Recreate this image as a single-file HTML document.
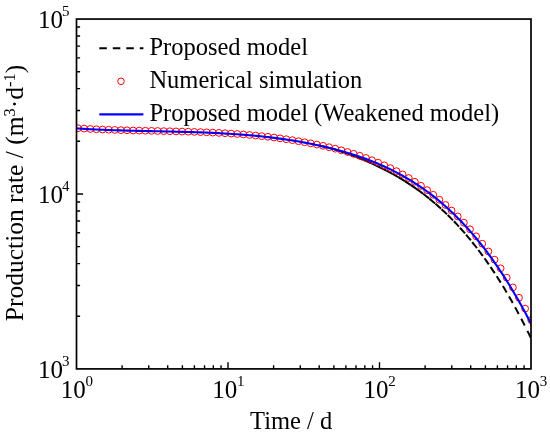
<!DOCTYPE html>
<html><head><meta charset="utf-8"><style>
html,body{margin:0;padding:0;background:#fff;}
svg{display:block;}
text{font-family:"Liberation Serif","Times New Roman",serif;fill:#000;}
</style></head><body>
<svg width="550" height="433" viewBox="0 0 550 433">
<rect width="550" height="433" fill="#fff"/>
<defs><clipPath id="c"><rect x="76.50" y="19.05" width="454.50" height="349.85"/></clipPath></defs>
<g clip-path="url(#c)">
<g fill="none" stroke="#000" stroke-width="2.0" stroke-dasharray="7.5,6"><path d="M318.97,145.50 L320.50,145.84 L322.04,146.19 L323.57,146.54 L325.10,146.90"/><path d="M325.10,146.90 L326.63,147.26 L328.17,147.63 L329.70,148.01 L331.23,148.40"/><path d="M331.23,148.40 L332.76,148.81 L334.30,149.25 L335.83,149.71 L337.36,150.19"/><path d="M337.36,150.19 L338.89,150.69 L340.43,151.20 L341.96,151.73 L343.49,152.26"/><path d="M343.49,152.26 L345.02,152.81 L346.56,153.36 L348.09,153.91 L349.62,154.46"/><path d="M349.62,154.46 L351.15,155.02 L352.69,155.60 L354.22,156.18 L355.75,156.77"/><path d="M355.75,156.77 L357.28,157.38 L358.81,157.99 L360.35,158.62 L361.88,159.25"/><path d="M361.88,159.25 L363.41,159.89 L364.94,160.54 L366.48,161.19 L368.01,161.85"/><path d="M368.01,161.85 L369.54,162.52 L371.07,163.20 L372.61,163.89 L374.14,164.59"/><path d="M374.14,164.59 L375.67,165.30 L377.20,166.02 L378.74,166.75 L380.27,167.49"/><path d="M380.27,167.49 L381.80,168.25 L383.33,169.01 L384.87,169.79 L386.40,170.59"/><path d="M386.40,170.59 L387.93,171.39 L389.46,172.21 L391.00,173.04 L392.53,173.88"/><path d="M392.53,173.88 L394.06,174.74 L395.59,175.61 L397.13,176.50 L398.66,177.39"/><path d="M398.66,177.39 L400.19,178.31 L401.73,179.23 L403.26,180.17 L404.79,181.13"/><path d="M404.79,181.13 L406.32,182.10 L407.86,183.08 L409.39,184.08 L410.92,185.10"/><path d="M410.92,185.10 L412.45,186.13 L413.99,187.17 L415.52,188.24 L417.05,189.32"/><path d="M417.05,189.32 L418.58,190.41 L420.12,191.53 L421.65,192.66 L423.18,193.81"/><path d="M423.18,193.81 L424.71,194.99 L426.25,196.18 L427.78,197.39 L429.31,198.62"/><path d="M429.31,198.62 L430.84,199.88 L432.38,201.15 L433.91,202.45 L435.44,203.76"/><path d="M435.44,203.76 L436.97,205.10 L438.50,206.46 L440.04,207.83 L441.57,209.23"/><path d="M441.57,209.23 L443.10,210.65 L444.63,212.10 L446.17,213.56 L447.70,215.05"/><path d="M447.70,215.05 L449.23,216.56 L450.76,218.09 L452.30,219.64 L453.83,221.21"/><path d="M453.83,221.21 L455.36,222.81 L456.89,224.44 L458.43,226.09 L459.96,227.76"/><path d="M459.96,227.76 L461.49,229.46 L463.02,231.19 L464.56,232.94 L466.09,234.72"/><path d="M466.09,234.72 L467.62,236.53 L469.16,238.37 L470.69,240.23 L472.22,242.13"/><path d="M472.22,242.13 L473.75,244.05 L475.29,246.00 L476.82,247.97 L478.35,249.98"/><path d="M478.35,249.98 L479.88,252.01 L481.42,254.07 L482.95,256.17 L484.48,258.29"/><path d="M484.48,258.29 L486.01,260.43 L487.55,262.61 L489.08,264.82 L490.61,267.05"/><path d="M490.61,267.05 L492.14,269.32 L493.68,271.62 L495.21,273.95 L496.74,276.31"/><path d="M496.74,276.31 L498.27,278.70 L499.81,281.12 L501.34,283.58 L502.87,286.08"/><path d="M502.87,286.08 L504.40,288.60 L505.94,291.16 L507.47,293.76 L509.00,296.40"/><path d="M509.00,296.40 L510.53,299.07 L512.07,301.78 L513.60,304.53 L515.13,307.31"/><path d="M515.13,307.31 L516.66,310.13 L518.19,312.98 L519.73,315.87 L521.26,318.80"/><path d="M521.26,318.80 L522.79,321.76 L524.33,324.75 L525.86,327.77 L527.39,330.83"/><path d="M527.39,330.83 L528.92,333.92 L530.45,337.04 L531.99,340.20 L533.52,343.39"/><path d="M533.52,343.39 L535.05,346.62 L536.59,349.88 L538.12,353.18 L539.65,356.52"/></g>
<g fill="none" stroke="#ff0000" stroke-width="1.0"><circle cx="78.00" cy="128.20" r="3.4"/><circle cx="84.12" cy="128.58" r="3.4"/><circle cx="90.25" cy="128.92" r="3.4"/><circle cx="96.38" cy="129.22" r="3.4"/><circle cx="102.50" cy="129.49" r="3.4"/><circle cx="108.62" cy="129.73" r="3.4"/><circle cx="114.75" cy="129.94" r="3.4"/><circle cx="120.88" cy="130.13" r="3.4"/><circle cx="127.00" cy="130.30" r="3.4"/><circle cx="133.12" cy="130.46" r="3.4"/><circle cx="139.25" cy="130.60" r="3.4"/><circle cx="145.38" cy="130.73" r="3.4"/><circle cx="151.50" cy="130.86" r="3.4"/><circle cx="157.62" cy="130.99" r="3.4"/><circle cx="163.75" cy="131.12" r="3.4"/><circle cx="169.88" cy="131.25" r="3.4"/><circle cx="176.00" cy="131.39" r="3.4"/><circle cx="182.12" cy="131.54" r="3.4"/><circle cx="188.25" cy="131.71" r="3.4"/><circle cx="194.38" cy="131.89" r="3.4"/><circle cx="200.50" cy="132.10" r="3.4"/><circle cx="206.62" cy="132.33" r="3.4"/><circle cx="212.75" cy="132.60" r="3.4"/><circle cx="218.88" cy="132.89" r="3.4"/><circle cx="225.00" cy="133.22" r="3.4"/><circle cx="231.12" cy="133.59" r="3.4"/><circle cx="237.25" cy="134.00" r="3.4"/><circle cx="243.38" cy="134.45" r="3.4"/><circle cx="249.50" cy="134.96" r="3.4"/><circle cx="255.62" cy="135.52" r="3.4"/><circle cx="261.75" cy="136.13" r="3.4"/><circle cx="267.88" cy="136.80" r="3.4"/><circle cx="274.00" cy="137.54" r="3.4"/><circle cx="280.12" cy="138.34" r="3.4"/><circle cx="286.25" cy="139.22" r="3.4"/><circle cx="292.38" cy="140.16" r="3.4"/><circle cx="298.50" cy="141.18" r="3.4"/><circle cx="304.62" cy="142.23" r="3.4"/><circle cx="310.75" cy="143.34" r="3.4"/><circle cx="316.88" cy="144.54" r="3.4"/><circle cx="323.00" cy="145.83" r="3.4"/><circle cx="329.12" cy="147.22" r="3.4"/><circle cx="335.25" cy="148.70" r="3.4"/><circle cx="341.38" cy="150.28" r="3.4"/><circle cx="347.50" cy="151.98" r="3.4"/><circle cx="353.62" cy="153.81" r="3.4"/><circle cx="359.75" cy="155.79" r="3.4"/><circle cx="365.88" cy="157.91" r="3.4"/><circle cx="372.00" cy="160.20" r="3.4"/><circle cx="378.12" cy="162.66" r="3.4"/><circle cx="384.25" cy="165.30" r="3.4"/><circle cx="390.38" cy="168.14" r="3.4"/><circle cx="396.50" cy="171.18" r="3.4"/><circle cx="402.62" cy="174.46" r="3.4"/><circle cx="408.75" cy="178.00" r="3.4"/><circle cx="414.88" cy="181.78" r="3.4"/><circle cx="421.00" cy="185.83" r="3.4"/><circle cx="427.12" cy="190.15" r="3.4"/><circle cx="433.25" cy="194.77" r="3.4"/><circle cx="439.38" cy="199.70" r="3.4"/><circle cx="445.50" cy="204.96" r="3.4"/><circle cx="451.62" cy="210.54" r="3.4"/><circle cx="457.75" cy="216.40" r="3.4"/><circle cx="463.88" cy="222.64" r="3.4"/><circle cx="470.00" cy="229.28" r="3.4"/><circle cx="476.12" cy="236.32" r="3.4"/><circle cx="482.25" cy="243.73" r="3.4"/><circle cx="488.38" cy="251.47" r="3.4"/><circle cx="494.50" cy="259.67" r="3.4"/><circle cx="500.62" cy="268.36" r="3.4"/><circle cx="506.75" cy="277.64" r="3.4"/><circle cx="512.88" cy="287.42" r="3.4"/><circle cx="519.00" cy="297.74" r="3.4"/><circle cx="525.12" cy="308.60" r="3.4"/><circle cx="531.25" cy="320.07" r="3.4"/></g>
<polyline points="74.50,128.27 76.42,128.40 78.34,128.52 80.26,128.65 82.17,128.76 84.09,128.88 86.01,128.99 87.93,129.09 89.85,129.20 91.77,129.30 93.68,129.39 95.60,129.48 97.52,129.57 99.44,129.66 101.36,129.74 103.28,129.82 105.19,129.90 107.11,129.97 109.03,130.04 110.95,130.11 112.87,130.18 114.79,130.24 116.71,130.30 118.62,130.36 120.54,130.42 122.46,130.48 124.38,130.53 126.30,130.58 128.22,130.63 130.13,130.68 132.05,130.73 133.97,130.78 135.89,130.82 137.81,130.87 139.73,130.91 141.64,130.95 143.56,131.00 145.48,131.04 147.40,131.08 149.32,131.12 151.24,131.16 153.15,131.20 155.07,131.24 156.99,131.28 158.91,131.32 160.83,131.36 162.75,131.40 164.67,131.44 166.58,131.48 168.50,131.52 170.42,131.56 172.34,131.60 174.26,131.65 176.18,131.69 178.09,131.74 180.01,131.79 181.93,131.84 183.85,131.89 185.77,131.94 187.69,131.99 189.60,132.05 191.52,132.11 193.44,132.16 195.36,132.23 197.28,132.29 199.20,132.36 201.12,132.42 203.03,132.49 204.95,132.57 206.87,132.64 208.79,132.72 210.71,132.80 212.63,132.89 214.54,132.98 216.46,133.07 218.38,133.16 220.30,133.26 222.22,133.36 224.14,133.47 226.05,133.58 227.97,133.69 229.89,133.81 231.81,133.93 233.73,134.05 235.65,134.18 237.56,134.32 239.48,134.46 241.40,134.60 243.32,134.75 245.24,134.90 247.16,135.06 249.08,135.22 250.99,135.39 252.91,135.56 254.83,135.74 256.75,135.92 258.67,136.11 260.59,136.31 262.50,136.51 264.42,136.72 266.34,136.93 268.26,137.15 270.18,137.37 272.10,137.60 274.01,137.84 275.93,138.09 277.85,138.34 279.77,138.59 281.69,138.86 283.61,139.13 285.53,139.41 287.44,139.69 289.36,139.99 291.28,140.29 293.20,140.59 295.12,140.91 297.04,141.23 298.95,141.56 300.87,141.90 302.79,142.25 304.71,142.60 306.63,142.97 308.55,143.34 310.46,143.72 312.38,144.10 314.30,144.50 316.22,144.91 318.14,145.32 320.06,145.74 321.97,146.18 323.89,146.62 325.81,147.07 327.73,147.53 329.65,148.00 331.57,148.48 333.49,148.96 335.40,149.46 337.32,149.97 339.24,150.49 341.16,151.02 343.08,151.56 345.00,152.11 346.91,152.67 348.83,153.25 350.75,153.83 352.67,154.43 354.59,155.05 356.51,155.67 358.42,156.31 360.34,156.97 362.26,157.64 364.18,158.32 366.10,159.02 368.02,159.74 369.94,160.47 371.85,161.22 373.77,161.98 375.69,162.76 377.61,163.56 379.53,164.38 381.45,165.22 383.36,166.07 385.28,166.95 387.20,167.84 389.12,168.75 391.04,169.68 392.96,170.64 394.87,171.61 396.79,172.61 398.71,173.63 400.63,174.66 402.55,175.73 404.47,176.81 406.38,177.92 408.30,179.05 410.22,180.21 412.14,181.39 414.06,182.59 415.98,183.82 417.90,185.08 419.81,186.36 421.73,187.67 423.65,189.01 425.57,190.37 427.49,191.77 429.41,193.19 431.32,194.65 433.24,196.13 435.16,197.64 437.08,199.19 439.00,200.77 440.92,202.38 442.83,204.02 444.75,205.69 446.67,207.40 448.59,209.15 450.51,210.92 452.43,212.74 454.35,214.59 456.26,216.47 458.18,218.39 460.10,220.35 462.02,222.35 463.94,224.39 465.86,226.46 467.77,228.57 469.69,230.73 471.61,232.92 473.53,235.16 475.45,237.43 477.37,239.75 479.28,242.11 481.20,244.52 483.12,246.96 485.04,249.45 486.96,251.99 488.88,254.57 490.79,257.19 492.71,259.87 494.63,262.58 496.55,265.35 498.47,268.16 500.39,271.02 502.31,273.93 504.22,276.89 506.14,279.90 508.06,282.96 509.98,286.06 511.90,289.22 513.82,292.44 515.73,295.70 517.65,299.01 519.57,302.38 521.49,305.81 523.41,309.28 525.33,312.81 527.24,316.40 529.16,320.04 531.08,323.74 533.00,327.50" fill="none" stroke="#0000ff" stroke-width="2.1"/>
</g>
<path d="M76.50,316.24h3.6 M76.50,285.44h3.6 M76.50,263.58h3.6 M76.50,246.63h3.6 M76.50,232.78h3.6 M76.50,221.07h3.6 M76.50,210.93h3.6 M76.50,201.98h3.6 M76.50,141.32h3.6 M76.50,110.51h3.6 M76.50,88.66h3.6 M76.50,71.71h3.6 M76.50,57.86h3.6 M76.50,46.15h3.6 M76.50,36.00h3.6 M76.50,27.05h3.6 M76.50,193.97h6.6 M122.11,368.90v-3.6 M148.78,368.90v-3.6 M167.71,368.90v-3.6 M182.39,368.90v-3.6 M194.39,368.90v-3.6 M204.53,368.90v-3.6 M213.32,368.90v-3.6 M221.07,368.90v-3.6 M273.61,368.90v-3.6 M300.28,368.90v-3.6 M319.21,368.90v-3.6 M333.89,368.90v-3.6 M345.89,368.90v-3.6 M356.03,368.90v-3.6 M364.82,368.90v-3.6 M372.57,368.90v-3.6 M425.11,368.90v-3.6 M451.78,368.90v-3.6 M470.71,368.90v-3.6 M485.39,368.90v-3.6 M497.39,368.90v-3.6 M507.53,368.90v-3.6 M516.32,368.90v-3.6 M524.07,368.90v-3.6 M228.00,368.90v-6.6 M379.50,368.90v-6.6" stroke="#000" stroke-width="1.4" fill="none"/>
<rect x="76.50" y="19.05" width="454.50" height="349.85" fill="none" stroke="#000" stroke-width="1.7"/>
<!-- legend -->
<path d="M99.3,48.3H143.4" stroke="#000" stroke-width="2.0" stroke-dasharray="7.5,6"/>
<text x="149.4" y="55.2" font-size="24.5">Proposed model</text>
<circle cx="121" cy="81.3" r="3.3" fill="none" stroke="#ff0000" stroke-width="1.0"/>
<text x="149.4" y="87.9" font-size="24.5">Numerical simulation</text>
<path d="M100.2,114.4H142.5" stroke="#0000ff" stroke-width="2.1" stroke-linecap="round"/>
<text x="149.4" y="120.6" font-size="24.5">Proposed model (Weakened model)</text>
<!-- y tick labels -->
<text x="38" y="28.3" font-size="25">10</text><text x="62" y="15.8" font-size="15">5</text>
<text x="38" y="203.3" font-size="25">10</text><text x="62" y="190.8" font-size="15">4</text>
<text x="38" y="378.4" font-size="25">10</text><text x="62" y="365.8" font-size="15">3</text>
<!-- x tick labels -->
<text x="60.7" y="398.1" font-size="25">10</text><text x="85.5" y="386.1" font-size="15">0</text>
<text x="212.2" y="398.1" font-size="25">10</text><text x="237" y="386.1" font-size="15">1</text>
<text x="363.4" y="398.1" font-size="25">10</text><text x="388.2" y="386.1" font-size="15">2</text>
<text x="515" y="398.1" font-size="25">10</text><text x="539.8" y="386.1" font-size="15">3</text>
<!-- axis titles -->
<text x="291.2" y="428.6" font-size="24.5" text-anchor="middle">Time / d</text>
<text transform="translate(23.4,321.2) rotate(-90)" font-size="25.5">Production rate / (m<tspan font-size="16.5" dy="-8.5">3</tspan><tspan dy="8.5">&#183;d</tspan><tspan font-size="16.5" dy="-8.5">-1</tspan><tspan dy="8.5">)</tspan></text>
</svg>
</body></html>
